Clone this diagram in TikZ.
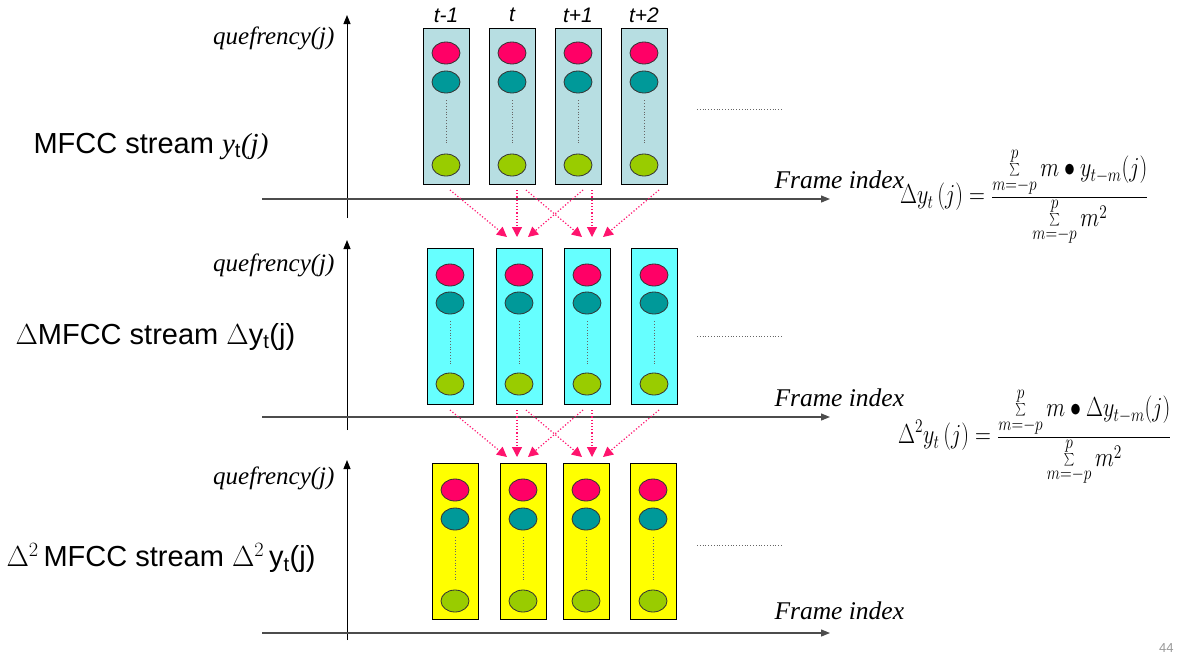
\documentclass[tikz,border=0pt]{standalone}
\usepackage{fix-cm}
\usepackage{fontspec}
\setmainfont{Liberation Sans}
\newfontfamily\tnr{Liberation Serif}
\usetikzlibrary{arrows.meta,shapes.geometric}
\definecolor{boxA}{RGB}{183,222,226}
\definecolor{boxB}{RGB}{102,255,255}
\definecolor{boxC}{RGB}{255,255,0}
\definecolor{cred}{RGB}{255,0,102}
\definecolor{cteal}{RGB}{0,153,153}
\definecolor{cgreen}{RGB}{153,204,0}
\definecolor{apink}{RGB}{255,20,110}
\begin{document}
\begin{tikzpicture}[x=1pt,y=-1pt,
  axis/.style={line width=1pt,-{Triangle[length=9pt,width=7pt]}},
  haxis/.style={line width=1.2pt,draw=black!70,-{Triangle[length=9pt,width=7pt]}},
  frame/.style={draw=black,line width=0.8pt,minimum width=46pt,minimum height=156pt,inner sep=0pt},
  dot/.style={ellipse,draw=black!80,line width=0.8pt,minimum width=28pt,minimum height=22pt,inner sep=0pt},
  vdots/.style={draw=black!60,dotted,line width=0.8pt},
  hdots/.style={draw=black!60,dotted,line width=0.8pt},
  flow/.style={draw=apink,dotted,line width=1.2pt,-{Triangle[length=10pt,width=10pt]}},
  q/.style={font=\tnr\itshape\fontsize{25}{25}\selectfont,anchor=east},
  fi/.style={font=\tnr\itshape\fontsize{25.5}{25}\selectfont,anchor=west},
  lab/.style={font=\fontsize{29}{29}\selectfont,anchor=west},
  tl/.style={font=\itshape\fontsize{21}{21}\selectfont},
  eq/.style={anchor=west,inner sep=0pt,font=\fontsize{22}{22}\selectfont,yscale=1.25}]
\useasboundingbox (0,0) rectangle (1185,657);

% ---- panels
\foreach \p/\top/\red/\teal/\grn/\col/\xa/\xb/\xc/\xd/\hy/\vt/\vb/\dy/\qy/\fy in
 {1/28/53/82/165/boxA/423/489/555/621/199/15/218/109/38/180,
  2/248/275/303/384/boxB/427/496/564/631/417/240/430/336/265/398,
  3/463/490/519/601/boxC/432/500/563/630/633/460/640/545/478/611}{
  \coordinate (va\p) at (347,\vb); \coordinate (vt\p) at (347,\vt);
  \coordinate (ha\p) at (262,\hy); \coordinate (ht\p) at (830,\hy);
  \draw[axis] (va\p) -- (vt\p);
  \draw[haxis] (ha\p) -- (ht\p);
  \foreach \k/\x in {1/\xa,2/\xb,3/\xc,4/\xd}{
    \node[frame,fill=\col,anchor=north west] (b\p-\k) at (\x,\top) {};
    \node[dot,fill=cred] (r\p-\k) at (\x+23,\red) {};
    \node[dot,fill=cteal] (t\p-\k) at (\x+23,\teal) {};
    \node[dot,fill=cgreen] (g\p-\k) at (\x+23,\grn) {};
    \draw[vdots] ([yshift=-7pt]t\p-\k.south) -- ([yshift=9pt]g\p-\k.north);
  }
  \coordinate (d\p a) at (697,\dy); \coordinate (d\p b) at (783,\dy);
  \draw[hdots] (d\p a) -- (d\p b);
  \node[q] (q\p) at (338,\qy) {quefrency(j)};
  \node[fi] (f\p) at (771,\fy) {Frame index};
}

\node[tl] (tm1) at (446,15) {t-1};
\node[tl] (t0) at (512,15) {t};
\node[tl] (tp1) at (578,15) {t+1};
\node[tl] (tp2) at (644,15) {t+2};

\node[lab] (l1) at (30,146) {MFCC stream \tnr\itshape y\textsubscript{\normalfont t}(j)};
\node[lab] (l2) at (12,337) {$\Delta$MFCC stream $\Delta$y\textsubscript{t}(j)};
\node[lab] (l3) at (3,558) {$\Delta^2$\,MFCC stream $\Delta^2$\,y\textsubscript{t}(j)};

% ---- flow arrows
\foreach \s/\sy/\ey in {1/190/237,2/410/457}{
  \foreach \i/\xs/\xe in {a/450/507,b/517/517,c/583/528,d/526/582,e/592/592,f/659/603}{
    \coordinate (s\s\i) at (\xs,\sy); \coordinate (e\s\i) at (\xe,\ey);
    \draw[flow] (s\s\i) -- (e\s\i);
  }
}

% ---- formulas
\node[eq] (eq1) at (900,197)
 {$\displaystyle \Delta y_t\,(j)=\frac{\sum\limits_{m=-p}^{p} m\bullet y_{t-m}(j)}{\sum\limits_{m=-p}^{p} m^2}$};
\node[eq] (eq2) at (898,437)
 {$\displaystyle \Delta^2 y_t\,(j)=\frac{\sum\limits_{m=-p}^{p} m\bullet \Delta y_{t-m}(j)}{\sum\limits_{m=-p}^{p} m^2}$};

\node[anchor=north west,text=black!40,font=\fontsize{13}{13}\selectfont,inner sep=1pt] (pg) at (1158,642) {44};
\end{tikzpicture}
\end{document}
